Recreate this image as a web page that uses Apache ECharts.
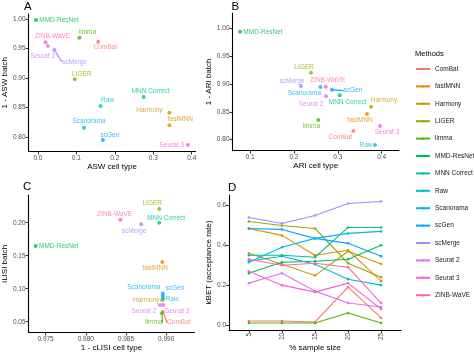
<!DOCTYPE html>
<html>
<head>
<meta charset="utf-8">
<script src="https://cdn.jsdelivr.net/npm/echarts@6/dist/echarts.min.js"></script>
<style>
html, body { margin: 0; background: #fff; }
#chart { width: 474px; height: 353px; }
</style>
</head>
<body>
<div id="chart"></div>
<script>
const methods = ['ComBat', 'fastMNN', 'Harmony', 'LIGER', 'limma', 'MMD-ResNet', 'MNN Correct', 'Raw', 'Scanorama', 'scGen', 'scMerge', 'Seurat 2', 'Seurat 3', 'ZINB-WaVE']
const colors = ['#F8766D', '#E38900', '#C49A00', '#99A800', '#53B400', '#00BC56', '#00C094', '#00BFC4', '#00B6EB', '#06A4FF', '#A58AFF', '#DF70F8', '#FB61D7', '#FF66A8']

// A: ASW
const aswCell = [0.157, 0.342, 0.342, 0.096, 0.108, -0.005, 0.275, 0.163, 0.120, 0.169, 0.043, 0.026, 0.390, 0.020]
const aswBatch = [0.9616, 0.8198, 0.8412, 0.8977, 0.9684, 0.9983, 0.8678, 0.8525, 0.8158, 0.7949, 0.9475, 0.9542, 0.7864, 0.9605]
// B: ARI
const ariCell = [0.3354, 0.3665, 0.3756, 0.2390, 0.2557, 0.0772, 0.3043, 0.3847, 0.2603, 0.2868, 0.2162, 0.2732, 0.3961, 0.2724]
const ariBatch = [0.8155, 0.8460, 0.8591, 0.9200, 0.8352, 0.9934, 0.8794, 0.7904, 0.8943, 0.8896, 0.8961, 0.8776, 0.8245, 0.8949]
// C: LISI
const lisiCell = [0.98959, 0.98951, 0.98951, 0.98914, 0.98947, 0.97377, 0.98914, 0.98963, 0.98959, 0.98959, 0.98689, 0.98922, 0.98963, 0.98432]
const lisiBatch = [0.0652, 0.1404, 0.0828, 0.2207, 0.0626, 0.1646, 0.2000, 0.0848, 0.0929, 0.0889, 0.1975, 0.0753, 0.0753, 0.2045]
// D: kBET
const sampleSize = [5, 10, 15, 20, 25]
const kbet = [
  [0.02, 0.02, 0.015, 0.19, 0.035],   // ComBat
  [0.485, 0.45, 0.35, 0.375, 0.22],   // fastMNN
  [0.36, 0.305, 0.248, 0.37, 0.306],  // Harmony
  [0.52, 0.50, 0.485, 0.31, 0.24],    // LIGER
  [0.01, 0.01, 0.01, 0.06, 0.01],     // limma
  [0.26, 0.315, 0.32, 0.33, 0.40],    // MMD-ResNet
  [0.35, 0.35, 0.34, 0.49, 0.49],     // MNN Correct
  [0.32, 0.345, 0.305, 0.23, 0.20],   // Raw
  [0.315, 0.39, 0.435, 0.46, 0.47],   // Scanorama
  [0.485, 0.48, 0.435, 0.41, 0.345],  // scGen
  [0.54, 0.51, 0.55, 0.61, 0.62],     // scMerge
  [0.21, 0.26, 0.17, 0.11, 0.09],     // Seurat 2
  [0.27, 0.20, 0.165, 0.21, 0.08],    // Seurat 3
  [0.33, 0.30, 0.31, 0.29, 0.11]      // ZINB-WaVE
]
const ticksA = { x: [0, 0.1, 0.2, 0.3, 0.4], y: [0.8, 0.85, 0.9, 0.95, 1.0] }
const ticksB = { x: [0.1, 0.2, 0.3, 0.4], y: [0.8, 0.85, 0.9, 0.95, 1.0] }
const ticksC = { x: [0.975, 0.98, 0.985, 0.99], y: [0.05, 0.1, 0.15, 0.2] }
const ticksD = { x: [5, 10, 15, 20, 25], y: [0, 0.2, 0.4, 0.6] }

// label offsets (px, from point centre)
const offA = [[7, 6], [11, -6], [-20, -2], [7, -5], [8, -5], [23, 0], [7, -6], [7, -6], [5, -6], [7, -5], [20, 12], [-5, 10], [-16, 0], [7, -6]]
const offB = [[-13, 6], [-7, 6], [13, -6], [-7, -5], [-7, 6], [23, 0], [8, 7], [-9, 0], [-16, 6], [21, 1], [-9, -5], [-15, 8], [7, 6], [2, -7]]
const offC = [[16, 11], [-7, 6], [-16, 0], [-7, -6], [-8, 9], [23, 0], [7, -5], [9, 0], [-19, -6], [12, -8], [-7, 7], [-16, 6], [14, 6], [-6, -6]]
const lineA = ['scMerge']
const lineB = ['scGen']
const lineC = ['limma', 'ComBat']

const FONT = 'Liberation Sans, Arial, sans-serif'

const chart = echarts.init(document.getElementById('chart'))

const makeAxis = (grid, min, max, ticks, fmt, name, gap, rotate) => ({
  type: 'value',
  gridIndex: grid,
  min: min,
  max: max,
  splitLine: { show: false },
  axisLine: { show: true, onZero: false, lineStyle: { color: '#000', width: 1.1 } },
  axisTick: { show: true, length: 3, customValues: ticks, lineStyle: { color: '#333' } },
  axisLabel: {
    customValues: ticks,
    formatter: fmt,
    color: '#4d4d4d',
    fontSize: 6.5,
    fontFamily: FONT,
    margin: 3,
    rotate: rotate || 0
  },
  name: name,
  nameLocation: 'middle',
  nameGap: gap,
  nameTextStyle: { color: '#000', fontSize: 8, fontFamily: FONT }
})

const scatter = (idx, xs, ys, offs, withLine) => ({
  type: 'scatter',
  xAxisIndex: idx,
  yAxisIndex: idx,
  symbolSize: 4,
  data: methods.map((m, i) => ({
    name: m,
    value: [xs[i], ys[i]],
    itemStyle: { color: colors[i] },
    label: { color: colors[i] },
    labelLine: { show: withLine.includes(m), lineStyle: { color: colors[i], width: 1.2 } }
  })),
  label: {
    show: true,
    position: 'inside',
    formatter: p => p.name,
    fontSize: 6.5,
    fontFamily: FONT
  },
  labelLine: { show: false },
  labelLayout: p => ({
    x: p.rect.x + p.rect.width / 2 + offs[p.dataIndex][0],
    y: p.rect.y + p.rect.height / 2 + offs[p.dataIndex][1],
    align: 'center',
    verticalAlign: 'middle'
  }),
  emphasis: { disabled: true }
})

const lines = methods.map((m, i) => ({
  name: m,
  type: 'line',
  xAxisIndex: 3,
  yAxisIndex: 3,
  data: sampleSize.map((s, j) => [s, kbet[i][j]]),
  symbol: 'circle',
  symbolSize: 2.5,
  showSymbol: true,
  itemStyle: { color: colors[i] },
  lineStyle: { color: colors[i], width: 1.1 },
  emphasis: { disabled: true }
}))

const letter = (t, x, y) => ({
  type: 'text', left: x, top: y,
  style: { text: t, fontSize: 11.5, fontFamily: FONT, fill: '#000' }
})

chart.setOption({
  animation: false,
  backgroundColor: '#fff',
  grid: [
    { left: 25.5, top: 14, width: 170, height: 137.5 },
    { left: 232.5, top: 13, width: 166.5, height: 137.7 },
    { left: 26, top: 195, width: 168.5, height: 137.5 },
    { left: 229, top: 195, width: 172, height: 136.7 }
  ],
  xAxis: [
    makeAxis(0, -0.0243, 0.4098, ticksA.x, v => v.toFixed(1), 'ASW cell type', 11),
    makeAxis(1, 0.0601, 0.4394, ticksB.x, v => v.toFixed(1), 'ARI cell type', 11),
    makeAxis(2, 0.97288, 0.99353, ticksC.x, v => v.toFixed(3), '1 - cLISI cell type', 11),
    makeAxis(3, 2, 28, ticksD.x, v => String(v), '% sample size', 11, 90)
  ],
  yAxis: [
    makeAxis(0, 0.7754, 1.0085, ticksA.y, v => v.toFixed(2), '1 - ASW batch', 16),
    makeAxis(1, 0.7803, 1.0269, ticksB.y, v => v.toFixed(2), '1 - ARI batch', 19),
    makeAxis(2, 0.03364, 0.242, ticksC.y, v => v.toFixed(2), 'iLISI batch', 16),
    makeAxis(3, -0.0248, 0.653, ticksD.y, v => v.toFixed(1), 'kBET (acceptance rate)', 14)
  ],
  legend: {
    data: methods,
    orient: 'vertical',
    left: 415,
    top: 65.5,
    padding: 0,
    itemWidth: 14,
    itemHeight: 3,
    itemGap: 10.4,
    textStyle: { fontSize: 6.5, lineHeight: 7, fontFamily: FONT, color: '#1a1a1a' }
  },
  graphic: [
    letter('A', 24, 1),
    letter('B', 231.5, 1),
    letter('C', 23, 181),
    letter('D', 228, 182),
    { type: 'text', left: 415, top: 50, style: { text: 'Methods', fontSize: 7.5, fontFamily: FONT, fill: '#000' } }
  ],
  series: [
    scatter(0, aswCell, aswBatch, offA, lineA),
    scatter(1, ariCell, ariBatch, offB, lineB),
    scatter(2, lisiCell, lisiBatch, offC, lineC)
  ].concat(lines)
})
</script>
</body>
</html>
